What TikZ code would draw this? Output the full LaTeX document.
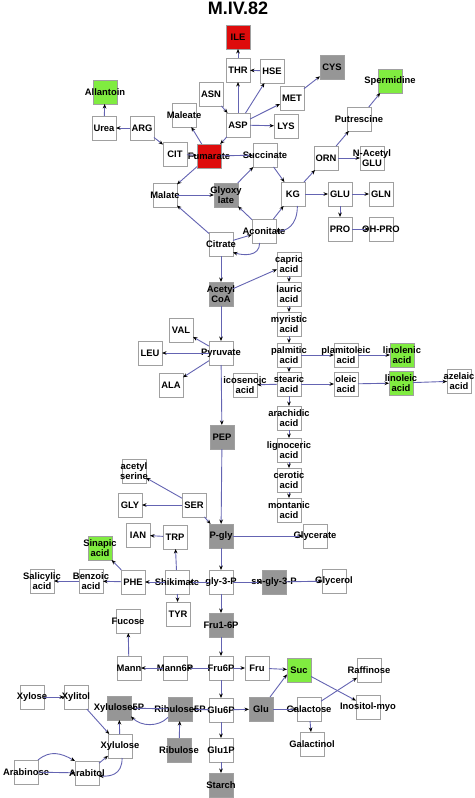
\documentclass[tikz,border=0pt]{standalone}
\usepackage{fontspec}
\setmainfont{Liberation Sans}
\usetikzlibrary{arrows.meta}
\definecolor{edgec}{RGB}{100,100,178}
\definecolor{bordc}{RGB}{160,160,160}
\definecolor{grayf}{RGB}{150,150,150}
\definecolor{redf}{RGB}{222,12,12}
\definecolor{greenf}{RGB}{128,236,64}
\newcommand\mnode[5]{\node[#4, label={[lbl]center:{#5}}] (#1) at (#2,#3) {};}
\begin{document}
\begin{tikzpicture}[x=1pt,y=-1pt,
  mbox/.style={draw=bordc, fill=white, line width=1pt, minimum width=24pt, minimum height=24pt, inner sep=0pt, outer sep=0pt},
  gbox/.style={mbox, fill=grayf},
  rbox/.style={mbox, fill=redf},
  grbox/.style={mbox, fill=greenf},
  lbl/.style={font=\fontsize{9.4}{10.2}\selectfont\bfseries, align=center, inner sep=0pt, text=black},
  arr/.style={draw=edgec, line width=0.9pt, -{Stealth[length=4.5pt,width=3.6pt,color=black]}}
]
\useasboundingbox (0,0) rectangle (474,798);
\node[font=\fontsize{18}{20}\selectfont\bfseries] (title) at (238,8) {M.IV.82};
% nodes
\mnode{ILE}{238}{37}{rbox}{ILE}
\mnode{THR}{238}{70}{mbox}{THR}
\mnode{HSE}{272}{71}{mbox}{HSE}
\mnode{ASN}{211}{94}{mbox}{ASN}
\mnode{MET}{292}{98}{mbox}{MET}
\mnode{CYS}{332}{67}{gbox}{CYS}
\mnode{Sperm}{390}{81}{grbox}{Spermidine}
\mnode{Allan}{105}{92}{grbox}{Allantoin}
\mnode{Maleate}{184}{115}{mbox}{Maleate}
\mnode{ASP}{238}{125}{mbox}{ASP}
\mnode{LYS}{286}{126}{mbox}{LYS}
\mnode{Urea}{104}{128}{mbox}{Urea}
\mnode{ARG}{142}{128}{mbox}{ARG}
\mnode{CIT}{175}{154}{mbox}{CIT}
\mnode{Fum}{209}{156}{rbox}{Fumarate}
\mnode{Succ}{265}{155}{mbox}{Succinate}
\mnode{Putr}{359}{119}{mbox}{Putrescine}
\mnode{ORN}{326}{158}{mbox}{ORN}
\mnode{NAG}{372}{158}{mbox}{N-Acetyl\\GLU}
\mnode{Malate}{165}{195}{mbox}{Malate}
\mnode{Glyox}{226}{195}{gbox}{Glyoxy\\late}
\mnode{KG}{293}{194}{mbox}{KG}
\mnode{GLU}{340}{194}{mbox}{GLU}
\mnode{GLN}{381}{194}{mbox}{GLN}
\mnode{PRO}{340}{229}{mbox}{PRO}
\mnode{OHPRO}{381}{229}{mbox}{OH-PRO}
\mnode{Acon}{264}{231}{mbox}{Aconitate}
\mnode{Citrate}{221}{244}{mbox}{Citrate}
\mnode{AcCoA}{221}{294}{gbox}{Acetyl\\CoA}
\mnode{capric}{289}{264}{mbox}{capric\\acid}
\mnode{lauric}{289}{294}{mbox}{lauric\\acid}
\mnode{myristic}{289}{324}{mbox}{myristic\\acid}
\mnode{palmitic}{289}{355}{mbox}{palmitic\\acid}
\mnode{stearic}{289}{384}{mbox}{stearic\\acid}
\mnode{plamitoleic}{346}{355}{mbox}{plamitoleic\\acid}
\mnode{linolenic}{402}{355}{grbox}{linolenic\\acid}
\mnode{oleic}{346}{384}{mbox}{oleic\\acid}
\mnode{linoleic}{401}{383}{grbox}{linoleic\\acid}
\mnode{azelaic}{459}{381}{mbox}{azelaic\\acid}
\mnode{icosenoic}{245}{385}{mbox}{icosenoic\\acid}
\mnode{VAL}{181}{330}{mbox}{VAL}
\mnode{Pyruvate}{221}{353}{mbox}{Pyruvate}
\mnode{LEU}{150}{353}{mbox}{LEU}
\mnode{ALA}{171}{385}{mbox}{ALA}
\mnode{arachidic}{289}{418}{mbox}{arachidic\\acid}
\mnode{lignoceric}{289}{450}{mbox}{lignoceric\\acid}
\mnode{cerotic}{289}{480}{mbox}{cerotic\\acid}
\mnode{montanic}{289}{510}{mbox}{montanic\\acid}
\mnode{Glycerate}{315}{536}{mbox}{Glycerate}
\mnode{PEP}{222}{437}{gbox}{PEP}
\mnode{acser}{134}{471}{mbox}{acetyl\\serine}
\mnode{SER}{194}{505}{mbox}{SER}
\mnode{GLY}{130}{505}{mbox}{GLY}
\mnode{Pgly}{221}{536}{gbox}{P-gly}
\mnode{TRP}{175}{537}{mbox}{TRP}
\mnode{IAN}{138}{535}{mbox}{IAN}
\mnode{Sinapic}{100}{548}{grbox}{Sinapic\\acid}
\mnode{Salicylic}{42}{581}{mbox}{Salicylic\\acid}
\mnode{Benzoic}{91}{581}{mbox}{Benzoic\\acid}
\mnode{PHE}{133}{582}{mbox}{PHE}
\mnode{Shik}{177}{582}{mbox}{Shikimate}
\mnode{gly3P}{221}{582}{mbox}{gly-3-P}
\mnode{sngly}{274}{582}{gbox}{sn-gly-3-P}
\mnode{Glycerol}{334}{581}{mbox}{Glycerol}
\mnode{TYR}{178}{614}{mbox}{TYR}
\mnode{Fucose}{128}{621}{mbox}{Fucose}
\mnode{Fru16P}{221}{625}{gbox}{Fru1-6P}
\mnode{Mann}{129}{668}{mbox}{Mann}
\mnode{Mann6P}{175}{668}{mbox}{Mann6P}
\mnode{Fru6P}{221}{668}{mbox}{Fru6P}
\mnode{Fru}{257}{668}{mbox}{Fru}
\mnode{Suc}{299}{670}{grbox}{Suc}
\mnode{Raff}{369}{670}{mbox}{Raffinose}
\mnode{Inos}{368}{707}{mbox}{Inositol-myo}
\mnode{Glu}{261}{709}{gbox}{Glu}
\mnode{Galactose}{309}{709}{mbox}{Galactose}
\mnode{Galactinol}{312}{744}{mbox}{Galactinol}
\mnode{Xylose}{32}{697}{mbox}{Xylose}
\mnode{Xylitol}{76}{697}{mbox}{Xylitol}
\mnode{Xyl5P}{119}{708}{gbox}{Xylulose5P}
\mnode{Rib5P}{180}{709}{gbox}{Ribulose5P}
\mnode{Glu6P}{221}{710}{mbox}{Glu6P}
\mnode{Ribulose}{179}{750}{gbox}{Ribulose}
\mnode{Xylulose}{120}{746}{mbox}{Xylulose}
\mnode{Glu1P}{221}{750}{mbox}{Glu1P}
\mnode{Starch}{221}{785}{gbox}{Starch}
\mnode{Arabinose}{26}{772}{mbox}{Arabinose}
\mnode{Arabitol}{87}{773}{mbox}{Arabitol}
% edges
\draw[arr] (THR) -- (ILE);
\draw[arr] (HSE) -- (THR);
\draw[arr] (ASP) -- (THR);
\draw[arr] (ASP) -- (HSE);
\draw[arr] (ASP) -- (MET);
\draw[arr] (MET) -- (CYS);
\draw[arr] (ASP) -- (LYS);
\draw[arr] (ASN) -- (ASP);
\draw[arr] (ASP) -- (Fum);
\draw[arr] (Fum) -- (Maleate);
\draw[arr] (ARG) -- (Urea);
\draw[arr] (Urea) -- (Allan);
\draw[arr] (ARG) -- (CIT);
\draw[arr] (CIT) -- (Fum);
\draw[arr] (Fum) -- (Succ);
\draw[arr] (Fum) -- (Malate);
\draw[arr] (Malate) -- (Glyox);
\draw[arr] (Citrate) -- (Malate);
\draw[arr] (Glyox) -- (Succ);
\draw[arr] (Succ) -- (KG);
\draw[arr] (KG) -- (ORN);
\draw[arr] (ORN) -- (Putr);
\draw[arr] (Putr) -- (Sperm);
\draw[arr] (ORN) -- (NAG);
\draw[arr] (KG) -- (GLU);
\draw[arr] (GLU) -- (GLN);
\draw[arr] (GLU) -- (PRO);
\draw[arr] (PRO) -- (OHPRO);
\draw[arr] (Acon) -- (KG);
\draw[arr] (KG.-70) .. controls +(0,20) and +(10,0) .. (Acon.east);
\draw[arr] (Acon) -- (Glyox);
\draw[arr] (Citrate) -- (Acon);
\draw[arr] (Acon.-110) .. controls +(0,14) and +(10,3) .. (Citrate.-35);
\draw[arr] (Citrate) -- (AcCoA);
\draw[arr] (AcCoA) -- (capric);
\draw[arr] (capric) -- (lauric);
\draw[arr] (lauric) -- (myristic);
\draw[arr] (myristic) -- (palmitic);
\draw[arr] (palmitic) -- (stearic);
\draw[arr] (stearic) -- (arachidic);
\draw[arr] (arachidic) -- (lignoceric);
\draw[arr] (lignoceric) -- (cerotic);
\draw[arr] (cerotic) -- (montanic);
\draw[arr] (palmitic) -- (plamitoleic);
\draw[arr] (plamitoleic) -- (linolenic);
\draw[arr] (stearic) -- (oleic);
\draw[arr] (oleic) -- (linoleic);
\draw[arr] (linoleic) -- (azelaic);
\draw[arr] (stearic) -- (icosenoic);
\draw[arr] (AcCoA) -- (Pyruvate);
\draw[arr] (Pyruvate) -- (VAL);
\draw[arr] (Pyruvate) -- (LEU);
\draw[arr] (Pyruvate) -- (ALA);
\draw[arr] (Pyruvate) -- (PEP);
\draw[arr] (PEP) -- (Pgly);
\draw[arr] (SER) -- (acser);
\draw[arr] (SER) -- (GLY);
\draw[arr] (SER) -- (Pgly);
\draw[arr] (Pgly) -- (Glycerate);
\draw[arr] (Pgly) -- (gly3P);
\draw[arr] (TRP) -- (IAN);
\draw[arr] (Shik) -- (TRP);
\draw[arr] (Shik) -- (TYR);
\draw[arr] (Shik) -- (PHE);
\draw[arr] (gly3P) -- (Shik);
\draw[arr] (PHE) -- (Sinapic);
\draw[arr] (PHE) -- (Benzoic);
\draw[arr] (Benzoic) -- (Salicylic);
\draw[arr] (gly3P) -- (sngly);
\draw[arr] (sngly) -- (Glycerol);
\draw[arr] (gly3P) -- (Fru16P);
\draw[arr] (Fru16P) -- (Fru6P);
\draw[arr] (Fru6P) -- (Mann6P);
\draw[arr] (Mann6P) -- (Mann);
\draw[arr] (Mann) -- (Fucose);
\draw[arr] (Fru6P) -- (Fru);
\draw[arr] (Fru) -- (Suc);
\draw[arr] (Glu) -- (Suc.200);
\draw[arr] (Fru6P) -- (Glu6P);
\draw[arr] (Glu6P) -- (Glu);
\draw[arr] (Glu6P) -- (Glu1P);
\draw[arr] (Glu1P) -- (Starch);
\draw[arr] (Glu) -- (Galactose);
\draw[arr] (Galactose) -- (Raff);
\draw[arr] (Suc) -- (Inos);
\draw[arr] (Galactose) -- (Galactinol);
\draw[arr] (Glu6P) -- (Rib5P);
\draw[arr] (Rib5P) -- (Xyl5P);
\draw[arr] (Rib5P.215) .. controls +(-10,10) and +(10,10) .. (Xyl5P.-35);
\draw[arr] (Ribulose) -- (Rib5P);
\draw[arr] (Xylulose) -- (Xyl5P);
\draw[arr] (Xylitol) -- (Xylulose);
\draw[arr] (Xylose) -- (Xylitol);
\draw[arr] (Arabitol) -- (Xylulose);
\draw[arr] (Xylulose.-80) .. controls +(0,18) and +(10,0) .. (Arabitol.-15);
\draw[arr] (Arabinose) -- (Arabitol);
\draw[arr] (Arabinose.north east) .. controls +(12,-10) and +(-14,-8) .. (Arabitol.north west);
\end{tikzpicture}
\end{document}
